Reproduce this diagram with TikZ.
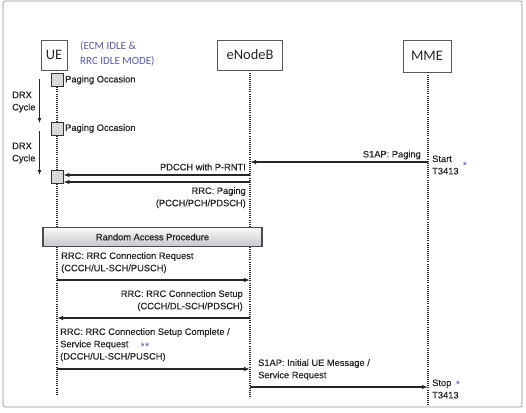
\documentclass[tikz,border=0pt]{standalone}
\usepackage{fontspec}
\setmainfont{Liberation Sans}
\newfontfamily\lbfont[FakeBold=0.45]{Liberation Sans}
\newfontfamily\calib{Carlito}
\usetikzlibrary{arrows.meta}
\definecolor{idleblue}{HTML}{5A5AA8}
\definecolor{rapfill}{HTML}{DCDCE2}
\begin{document}
\begin{tikzpicture}[x=1pt,y=-1pt,
  ent/.style={draw=black!65, line width=0.8pt, minimum height=30pt, inner sep=0,
              font=\calib\fontsize{14.5}{16}\selectfont, text=black!85},
  life/.style={draw=black!80, line width=1.2pt, dash pattern=on 1pt off 1.1pt},
  po/.style={draw=black!80, fill=black!15, line width=0.9pt, minimum width=12pt,
             minimum height=13pt, inner sep=0},
  lbl/.style={font=\lbfont\fontsize{9.3}{12.3}\selectfont, text=black!85, inner sep=0},
  msg/.style={draw=black!85, line width=1.1pt, -{Latex[length=6pt,width=4.5pt]}},
  star/.style={font=\fontsize{11}{12}\selectfont, text=idleblue, inner sep=0},
]
\useasboundingbox (0,0) rectangle (526,412);
\draw[black!45, line width=0.6pt, rounded corners=2pt] (3,1) rectangle (522,407);

% entities
\node[ent, minimum width=26pt] (ue) at (54,55) {UE};
\node[ent, minimum width=65pt] (enb) at (250,55) {eNodeB};
\node[ent, minimum width=48pt, minimum height=32pt] (mme) at (427,56) {MME};
\node[font=\calib\fontsize{11}{15}\selectfont, text=idleblue, align=left,
      anchor=north west, inner sep=0] (mode) at (80,41) {(ECM IDLE \&\\RRC IDLE MODE)};

% lifelines
\coordinate (ueEnd) at (57,395);
\coordinate (enbEnd) at (250,398);
\coordinate (mmeEnd) at (428,405);
\draw[life] (ue.south -| ueEnd) -- (ueEnd);
\draw[life] (enb.south -| enbEnd) -- (enbEnd);
\draw[life] (mme.south -| mmeEnd) -- (mmeEnd);

% paging occasions
\node[po] (po1) at (57,80) {};
\node[po] (po2) at (57,128.5) {};
\node[po] (po3) at (57,176.5) {};
\node[lbl, anchor=west] (pol1) at (65,80) {Paging Occasion};
\node[lbl, anchor=west] (pol2) at (65,128.5) {Paging Occasion};

% DRX cycles
\coordinate (d1a) at (39.5,79);
\coordinate (d1b) at (39.5,123);
\coordinate (d2a) at (39.5,131);
\coordinate (d2b) at (39.5,175);
\draw[draw=black!85, line width=1pt, -{Latex[length=5pt,width=4pt]}] (d1a) -- (d1b);
\draw[draw=black!85, line width=1pt, -{Latex[length=5pt,width=4pt]}] (d2a) -- (d2b);
\node[lbl, align=left, anchor=west] (drx1) at (12,102) {DRX\\Cycle};
\node[lbl, align=left, anchor=west] (drx2) at (12,153) {DRX\\Cycle};

% S1AP paging
\coordinate (mP) at (428,162);
\coordinate (eP) at (250,162);
\draw[msg] (mP) -- (eP);
\node[lbl, anchor=east] (s1p) at (421,155) {S1AP: Paging};
\node[lbl, align=left, anchor=west] (start) at (432,165) {Start\\T3413};
\node[star] (st1) at (465,166) {*};

% PDCCH / RRC paging
\coordinate (ePd) at (250,175);
\coordinate (eRp) at (250,182);
\draw[msg] (ePd) -- (po3.east |- ePd);
\draw[msg] (eRp) -- (po3.east |- eRp);
\node[lbl, anchor=east] (pdcch) at (246,167) {PDCCH with P-RNTI};
\node[lbl, align=right, anchor=north east] (rrcp) at (246,187) {RRC: Paging\\(PCCH/PCH/PDSCH)};

% random access
\node[draw=black!70, line width=1.2pt, top color=white!85!rapfill, bottom color=rapfill!90!black,
      minimum width=219pt, minimum height=19pt, inner sep=0, text=black!85,
      font=\lbfont\fontsize{9.3}{11}\selectfont]
      (rap) at (152.5,237) {Random Access Procedure};

% RRC connection request
\coordinate (uR) at (57,280);
\coordinate (eR) at (250,280);
\draw[msg] (uR) -- (eR);
\node[lbl, align=left, anchor=north west] (req) at (61,252) {RRC: RRC Connection Request\\(CCCH/UL-SCH/PUSCH)};

% RRC connection setup
\coordinate (eSu) at (250,318);
\coordinate (uSu) at (57,318);
\draw[msg] (eSu) -- (uSu);
\node[lbl, align=right, anchor=north east] (setup) at (243,290) {RRC: RRC Connection Setup\\(CCCH/DL-SCH/PDSCH)};

% RRC connection setup complete
\coordinate (uC) at (57,369);
\coordinate (eC) at (250,369);
\draw[msg] (uC) -- (eC);
\node[lbl, align=left, anchor=north west] (compl) at (60,328) {RRC: RRC Connection Setup Complete /\\Service Request\\(DCCH/UL-SCH/PUSCH)};
\node[star] (st2) at (145,347) {**};

% S1AP initial UE message
\coordinate (eI) at (250,387);
\coordinate (mI) at (428,387);
\draw[msg] (eI) -- (mI);
\node[lbl, align=left, anchor=north west] (init) at (258,359) {S1AP: Initial UE Message /\\Service Request};
\node[lbl, align=left, anchor=west] (stop) at (432,389) {Stop\\T3413};
\node[star] (st3) at (458,385) {*};
\end{tikzpicture}
\end{document}
